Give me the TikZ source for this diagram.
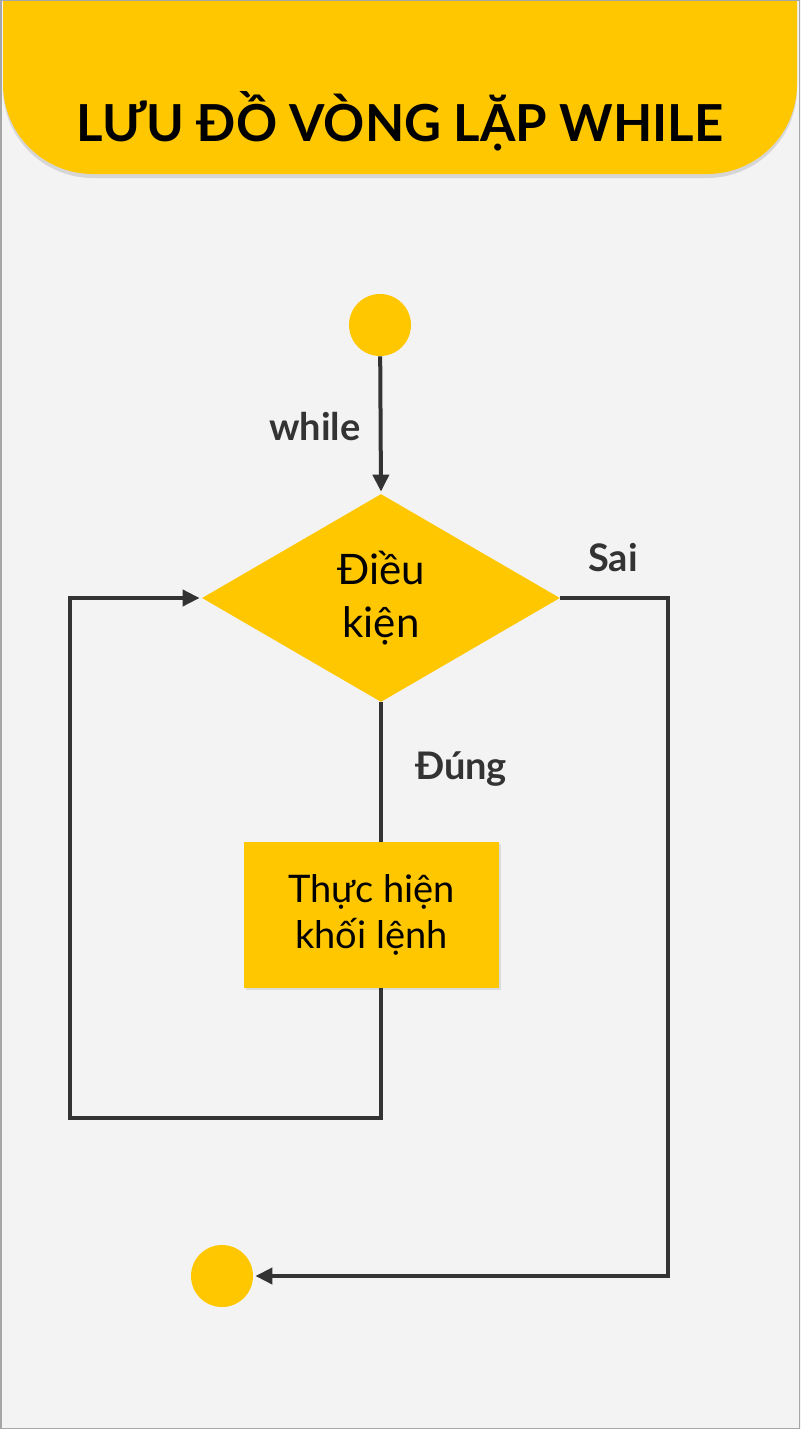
\documentclass[tikz,border=0pt]{standalone}
\usepackage{fontspec}
\setmainfont{Lato}
\usetikzlibrary{arrows.meta, positioning, shapes.geometric, shadows}
\definecolor{banana}{HTML}{FFC700}
\definecolor{inkgray}{HTML}{333333}
\definecolor{paper}{HTML}{F3F3F3}
\tikzset{
  terminal/.style={circle, fill=banana, minimum size=31pt, inner sep=0pt},
  decision/.style={diamond, fill=banana, minimum width=179pt, minimum height=104pt,
    inner sep=0pt, align=center, font=\fontsize{21}{26.5}\selectfont},
  process/.style={rectangle, fill=banana, minimum width=127.5pt, minimum height=73pt,
    align=center, font=\fontsize{19}{23}\selectfont,
    drop shadow={opacity=0.2, shadow xshift=0.8pt, shadow yshift=-0.8pt}},
  edgelabel/.style={font=\bfseries\fontsize{19}{21}\selectfont, text=inkgray, anchor=base},
  flowline/.style={draw=inkgray, line width=2pt},
  flowarrow/.style={flowline, -{Triangle[length=8.5pt, width=8pt]}, shorten >=1pt},
}
\begin{document}
\begin{tikzpicture}[x=0.5pt, y=-0.5pt]
  \useasboundingbox (0,0) rectangle (800,1429);
  \clip (0,0) rectangle (800,1429);
  \fill[paper] (0,0) rectangle (800,1429);
  % title banner
  \fill[banana, rounded corners=45pt,
    drop shadow={opacity=0.25, shadow xshift=0pt, shadow yshift=-2pt}]
    (3,-100) rectangle (797,174);
  \node[font=\bfseries\fontsize{25.5}{30}\selectfont, anchor=base] (title) at (400,141)
    {LƯU ĐỒ VÒNG LẶP WHILE};
  % flowchart nodes
  \node[terminal] (start) at (380,325) {};
  \node[decision] (cond) at (381,598) {Điều\\kiện};
  \node[process] (body) at (371.5,915) {Thực hiện\\khối lệnh};
  \node[terminal] (stop) at (222,1276) {};
  \coordinate (rc) at (668,1276);
  \coordinate (lc) at (70,1118);
  % labels
  \node[edgelabel] (lwhile) at (315,440) {while};
  \node[edgelabel] (lsai) at (613,571) {Sai};
  \node[edgelabel] (ldung) at (461,779) {Đúng};
  % connectors
  \draw[flowarrow] (start) -- (cond.north);
  \draw[flowline] (cond.south) -- (cond.south |- body.north);
  \draw[flowarrow] (cond.south |- body.south) |- (lc) |- (cond.west);
  \draw[flowarrow] (cond.east) -| (rc) -- (stop);
  \draw[gray!70, line width=1.5pt] (0,0) rectangle (800,1429);
\end{tikzpicture}
\end{document}
